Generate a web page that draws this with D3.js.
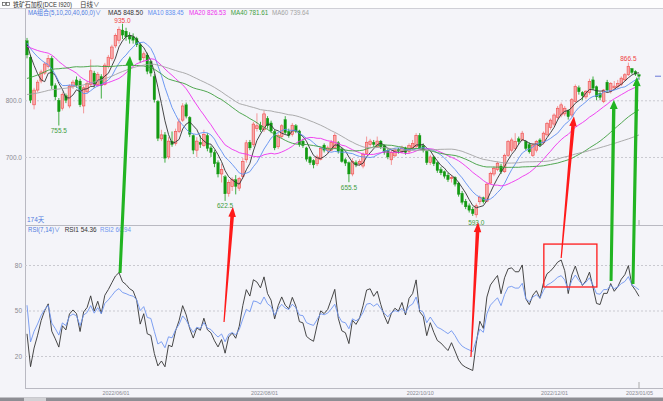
<!DOCTYPE html>
<html><head><meta charset="utf-8">
<script src="https://cdn.jsdelivr.net/npm/d3@7"></script>
<style>
html,body{margin:0;padding:0;background:#f4f4f9;}
svg{display:block;}
text{font-family:"Liberation Sans","Noto Sans CJK SC",sans-serif;}
</style></head><body>
<svg id="c" width="663" height="401"></svg>
<script>
// ---- data ----
const open=[905,876,792,818,834,848,860,874,826,800,
786,808,790,824,836,834,790,815,828,848,
828,842,828,860,874,896,906,924,922,914,
912,909,898,875,880,868,842,798,732,739,
700,728,724,745,765,792,770,738,712,726,
720,738,716,708,690,670,665,636,648,660,
645,666,695,726,722,750,756,748,768,760,
745,718,736,766,745,740,755,746,728,716,
700,694,688,696,721,712,712,716,725,714,
695,690,670,690,688,684,706,722,726,718,
728,720,712,695,702,714,710,716,710,716,
718,738,720,710,690,700,690,678,674,668,
662,664,654,636,622,614,608,598,621,628,
622,654,670,678,684,674,703,712,715,732,
730,727,722,703,712,730,725,739,752,758,
770,774,776,782,774,798,822,814,806,814,
836,824,812,798,832,816,822,824,828,836,
845,856,851,845];
const high=[910,880,822,836,854,868,880,878,830,804,
814,812,828,836,842,838,826,834,872,852,
850,846,866,880,898,918,930,935,928,920,
918,912,902,886,884,870,846,800,748,744,
735,745,750,768,795,796,772,740,735,738,
748,742,720,712,694,688,668,660,664,668,
665,698,730,730,762,777,762,782,772,764,
748,742,758,772,750,760,758,748,732,718,
702,696,704,718,724,720,730,742,728,716,
698,692,698,694,696,708,736,732,730,736,
730,722,714,712,716,716,720,718,724,730,
742,742,724,712,704,702,692,682,676,672,
668,666,656,640,626,618,612,618,632,630,
655,674,684,692,688,706,730,734,742,736,
746,730,726,724,730,733,745,762,768,777,
790,796,790,784,804,828,826,816,818,838,
842,826,814,820,836,832,834,836,842,848,
866.5,857,853,847];
const low=[874,795,784,814,830,845,856,820,800,755.5,
782,795,786,820,822,788,777,812,825,822,
824,803,826,856,870,892,900,908,905,900,
900,894,866,868,846,842,796,728,728,690,
696,718,720,742,762,768,735,705,700,716,
718,710,700,682,664,655,622.5,630,640,634,
640,662,690,712,718,745,744,744,750,742,
712,714,732,740,734,736,742,718,716,692,
686,680,684,694,708,706,710,714,706,690,
684,655.5,666,682,684,680,704,718,718,716,
714,704,696,686,700,706,706,704,706,712,
716,714,708,686,686,684,672,668,662,656,
655,648,630,616,608,602,596,593,616,618,
620,652,666,675,670,672,700,708,712,722,
728,712,706,700,708,718,722,736,748,754,
766,770,772,766,770,796,810,800,802,810,
818,800,800,795,815,812,818,820,825,834,
843,846,843,836];
const close=[880,800,818,832,850,864,874,826,806,780,
810,800,825,832,826,792,822,830,852,828,
846,826,862,876,894,914,925,915,912,908,
906,898,871,882,851,848,801,733,739,698,
728,722,745,762,790,772,740,712,728,722,
740,715,708,688,670,678,635,655,660,648,
662,692,725,716,758,755,748,776,755,746,
716,738,755,743,738,756,745,722,720,696,
690,686,700,715,712,716,726,738,710,692,
689,670,692,686,692,705,726,728,722,728,
718,708,700,708,712,710,716,708,720,724,
738,716,712,690,700,688,676,672,666,660,
664,652,634,620,612,606,600,614,629,621,
652,671,680,689,674,703,727,730,727,727,
742,715,709,721,727,721,742,759,765,774,
786,792,786,771,801,824,815,808,816,833,
821,806,805,818,818,830,825,830,839,845,
860,849,846,842.5];
// closes before the first visible bar (feed the moving averages / RSI)
const leadClose=[770,765,760,768,775,770,762,755,750,758,765,760,752,745,740,748,742,736,730,725,
728,735,742,750,748,756,765,772,770,778,786,795,790,800,808,815,812,822,830,838,
852,866,878,886,894,900,896,904,910,906,900,894,898,906,912,908,902,906,904];

const maPeriods=[5,10,20,40,60];
const maNames=["MA5","MA10","MA20","MA40","MA60"];
const maValues=["848.50","838.45","826.53","781.61","739.64"];
const rsiPeriods=[7,14];
const rsiNames=["RSI1","RSI2"];
const rsiValues=["54.36","60.94"];
const priceTicks=[700,800];
const rsiTicks=[20,50,80];
const dateTickIdx=[25,67,111,149,173];
const dateTickLabels=["2022/06/01","2022/08/01","2022/10/10","2022/12/01","2023/01/05"];
const extremeIdx=[9,27,56,91,127,170];
const extremeType=["low","high","low","low","low","high"];
// annotation arrows: tail in RSI panel (bar index, RSI value) -> head in price panel (bar index, price)
const arrowFromIdx=[26.3,55.7,125.5,151.0,165.1,171.3];
const arrowFromRsi=[74.7,42.4,19.3,84.6,69.5,67.5];
const arrowToIdx=[29.1,58.2,127.5,154.6,165.9,172.4];
const arrowToPrice=[878,612,585,772,800.5,841];
const arrowKind=["g","r","r","r","g","g"];
const boxIdx=[146.1,161.1], boxRsi=[93.8,65.5];

// ---- styles ----
const C={bg:"#f4f4f9",axis:"#b9b9c2",grid:"#c9c9d0",up:"#f04848",upFill:"#f7a9a9",down:"#129a12",
  ma:["#333333","#5f8ff0","#ee30ee","#3e9e3e","#a3a3a3"],rsi:["#333333","#6f95f0"],
  label:"#8a8a92",blue:"#4f7be0",red:"#ff1a1a",green:"#22b422"};

const N=close.length;
const all=leadClose.concat(close), L=leadClose.length;
const svg=d3.select("#c");
svg.append("rect").attr("width",663).attr("height",401).attr("fill",C.bg);
svg.append("rect").attr("width",663).attr("height",8.5).attr("fill","#fdfdfe");

const x=d3.scalePoint().domain(d3.range(N)).range([27,639]);
const xf=d3.scaleLinear().domain([0,N-1]).range([27,639]);
const y=d3.scaleLinear().domain([580,954]).range([225,13]);
const yr=d3.scaleLinear().domain([20,80]).range([356,265]);
const axisY=388.5;

// frame lines
svg.append("line").attr("x1",0).attr("x2",663).attr("y1",8.5).attr("y2",8.5).attr("stroke","#cfcfd6");
svg.append("line").attr("x1",25.5).attr("x2",25.5).attr("y1",8.5).attr("y2",axisY).attr("stroke",C.axis);
svg.append("line").attr("x1",25).attr("x2",663).attr("y1",225.5).attr("y2",225.5).attr("stroke",C.axis);
svg.append("rect").attr("x",0).attr("y",397.5).attr("width",663).attr("height",4).attr("fill","#8e8e94");
svg.append("rect").attr("x",24).attr("y",397.5).attr("width",22).attr("height",4).attr("fill","#d2d2d6");

function gridAxis(scale,ticks){
  svg.append("g").attr("transform","translate(25,0)")
    .call(d3.axisRight(scale).tickValues(ticks).tickSize(638).tickFormat(""))
    .call(g=>{g.select(".domain").remove();g.selectAll("line").attr("stroke",C.grid).attr("stroke-dasharray","2,2");});
}
// price axis + grid
const gy=svg.append("g").attr("transform","translate(25,0)")
  .call(d3.axisLeft(y).tickValues(priceTicks).tickFormat(d3.format(".1f")).tickSize(0).tickPadding(3));
gy.select(".domain").remove();
gy.selectAll("text").attr("fill",C.label).style("font-size","6.5px");
gridAxis(y,priceTicks);
// rsi axis + grid
const gr=svg.append("g").attr("transform","translate(25,0)")
  .call(d3.axisLeft(yr).tickValues(rsiTicks).tickSize(0).tickPadding(3));
gr.select(".domain").remove();
gr.selectAll("text").attr("fill",C.label).style("font-size","6.5px");
gridAxis(yr,rsiTicks);

// date axis
const gx=svg.append("g").attr("transform","translate(0,"+axisY+")")
  .call(d3.axisBottom(x).tickValues(dateTickIdx).tickFormat((d,i)=>dateTickLabels[i]).tickSize(0).tickPadding(2));
gx.select(".domain").attr("stroke",C.axis).attr("d","M25,0H663");
gx.selectAll("text").attr("fill",C.label).style("font-size","6.2px")
  .attr("textLength",27).attr("lengthAdjust","spacingAndGlyphs");
svg.append("line").attr("x1",x(N-1)).attr("x2",x(N-1)).attr("y1",382).attr("y2",axisY).attr("stroke","#aaa");
svg.append("line").attr("x1",x(N-1)).attr("x2",x(N-1)).attr("y1",220).attr("y2",225).attr("stroke","#aaa");

// candles
const bw=2.6;
const cg=svg.append("g");
d3.range(N).forEach(i=>{
  const up=close[i]>=open[i];
  const col=up?C.up:C.down;
  cg.append("line").attr("x1",x(i)).attr("x2",x(i)).attr("y1",y(high[i])).attr("y2",y(low[i]))
    .attr("stroke",up?"#f28080":C.down).attr("stroke-width",0.8);
  const t=y(Math.max(open[i],close[i])), b=y(Math.min(open[i],close[i]));
  cg.append("rect").attr("x",x(i)-bw/2).attr("y",t).attr("width",bw).attr("height",Math.max(0.8,b-t))
    .attr("fill",up?C.upFill:C.down).attr("stroke",col).attr("stroke-width",up?0.6:0.3);
});

// moving averages
const line=d3.line().x((d,i)=>x(i)).y(d=>y(d));
maPeriods.forEach((p,k)=>{
  const ma=d3.range(N).map(i=>d3.mean(all.slice(L+i-p+1,L+i+1)));
  svg.append("path").attr("d",line(ma)).attr("fill","none").attr("stroke",C.ma[k]).attr("stroke-width",0.9);
});

// RSI (SMA(x,N,1) smoothing)
const rline=d3.line().x((d,i)=>x(i)).y(d=>yr(d));
rsiPeriods.forEach((n,k)=>{
  let up=0,ab=0; const out=[];
  for(let j=1;j<all.length;j++){
    const d=all[j]-all[j-1];
    if(j===1){up=Math.max(d,0);ab=Math.abs(d);}
    else{up=(Math.max(d,0)+(n-1)*up)/n;ab=(Math.abs(d)+(n-1)*ab)/n;}
    if(j>=L) out.push(ab===0?50:up/ab*100);
  }
  svg.append("path").attr("d",rline(out)).attr("fill","none").attr("stroke",C.rsi[k]).attr("stroke-width",0.9);
});

// extreme labels
extremeIdx.forEach((i,k)=>{
  const hi=extremeType[k]==="high";
  svg.append("text").attr("x",x(i)).attr("y",hi?y(high[i])-1.2:y(low[i])+7.5)
    .attr("text-anchor","middle").attr("fill",hi?"#f04040":"#3c9c3c").style("font-size","6.5px")
    .text((hi?high[i]:low[i]).toFixed(1));
});

// current price marker
svg.append("line").attr("x1",655).attr("x2",661).attr("y1",y(close[N-1])).attr("y2",y(close[N-1])).attr("stroke","#6a78d8");

// header
[2,6].forEach(px=>svg.append("rect").attr("x",px+0.5).attr("y",2.5).attr("width",3).attr("height",3)
  .attr("fill","none").attr("stroke","#555").attr("stroke-width",0.7));
svg.append("text").attr("x",13).attr("y",6.8).attr("fill","#333").style("font-size","6.5px")
  .attr("textLength",59).attr("lengthAdjust","spacingAndGlyphs").text("铁矿石加权(DCE I920)");
svg.append("text").attr("x",80).attr("y",6.8).attr("fill","#333").style("font-size","6.5px").text("日线∨");

// legends
function legendText(xp,yp,w,col,txt){
  svg.append("text").attr("x",xp).attr("y",yp).attr("fill",col).style("font-size","6.8px")
    .attr("textLength",w).attr("lengthAdjust","spacingAndGlyphs").text(txt);
}
legendText(28,14.8,73,C.blue,"MA组合(5,10,20,40,60,0)∨");
const maX=[108,147.7,189,230.7,272], maW=[35,36,37,37.5,37];
maNames.forEach((n,k)=>legendText(maX[k],14.8,maW[k],k===0?"#333":C.ma[k],n+" "+maValues[k]));
svg.append("text").attr("x",27).attr("y",222).attr("fill",C.blue).style("font-size","6.5px").text("174天");
legendText(28,232,32,C.blue,"RSI(7,14)∨");
const rsX=[64.7,100], rsW=[32,31];
rsiNames.forEach((n,k)=>legendText(rsX[k],232,rsW[k],k===0?"#333":C.rsi[1],n+" "+rsiValues[k]));

// annotations
function arrowPath(x1,y1,x2,y2,w0,w1,hw,hl){
  const dx=x2-x1,dy=y2-y1,Ln=Math.hypot(dx,dy),ux=dx/Ln,uy=dy/Ln,nx=-uy,ny=ux;
  const bx=x2-ux*hl,by=y2-uy*hl;
  const p=[[x1+nx*w0/2,y1+ny*w0/2],[bx+nx*w1/2,by+ny*w1/2],[bx+nx*hw/2,by+ny*hw/2],[x2,y2],
    [bx-nx*hw/2,by-ny*hw/2],[bx-nx*w1/2,by-ny*w1/2],[x1-nx*w0/2,y1-ny*w0/2]];
  return "M"+p.map(q=>q[0].toFixed(2)+","+q[1].toFixed(2)).join("L")+"Z";
}
arrowFromIdx.forEach((fi,k)=>{
  const g=arrowKind[k]==="g";
  svg.append("path").attr("d",arrowPath(xf(fi),yr(arrowFromRsi[k]),xf(arrowToIdx[k]),y(arrowToPrice[k]),
      g?3:1.2,g?3.4:3.6,g?8:7.5,g?9:10))
    .attr("fill",g?C.green:C.red);
});
svg.append("rect").attr("x",xf(boxIdx[0])).attr("y",yr(boxRsi[0])).attr("width",xf(boxIdx[1])-xf(boxIdx[0]))
  .attr("height",yr(boxRsi[1])-yr(boxRsi[0])).attr("fill","none").attr("stroke",C.red).attr("stroke-width",1.3);
</script>
</body></html>
